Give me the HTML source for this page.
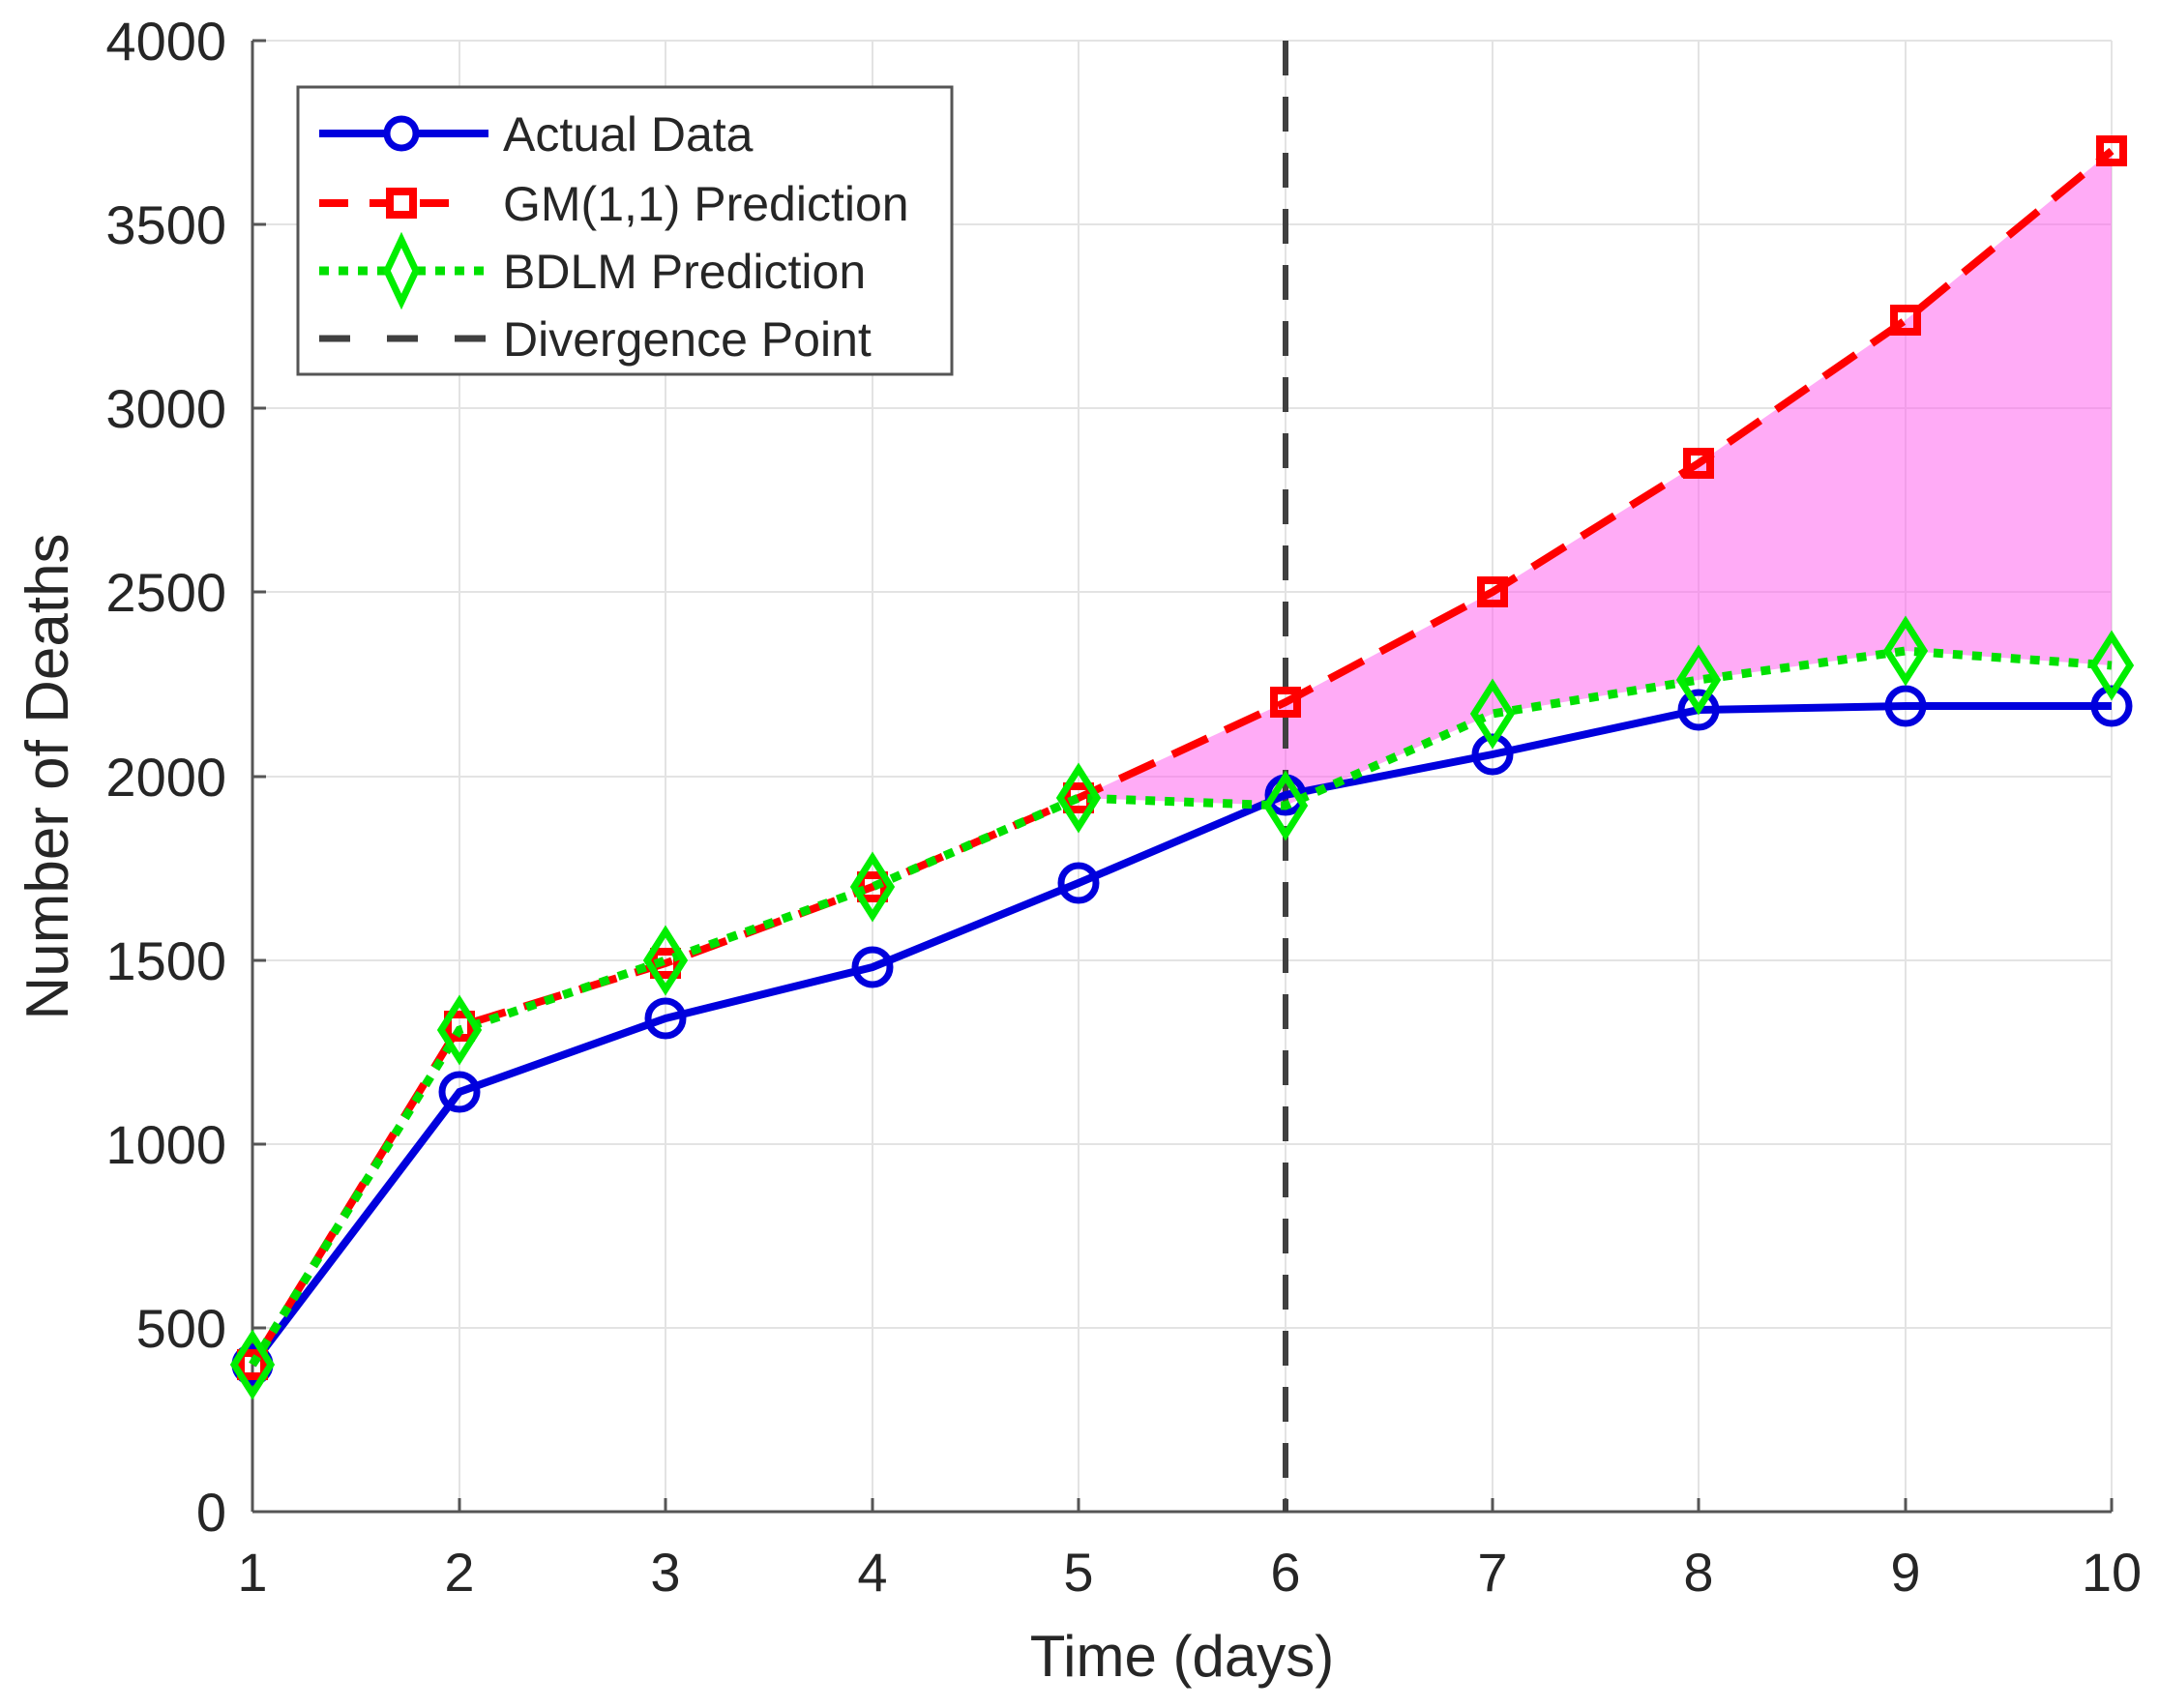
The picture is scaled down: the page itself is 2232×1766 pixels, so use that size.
<!DOCTYPE html>
<html><head><meta charset="utf-8"><style>
html,body{margin:0;padding:0;background:#fff;}
svg{display:block;font-family:"Liberation Sans",Arial,sans-serif;}
</style></head><body>
<svg width="2232" height="1766" viewBox="0 0 2232 1766" xmlns="http://www.w3.org/2000/svg">
<rect width="2232" height="1766" fill="#fff"/>
<g id="grid" stroke="#e3e3e3" stroke-width="2">
<line x1="475" y1="42" x2="475" y2="1563"/><line x1="688" y1="42" x2="688" y2="1563"/><line x1="902" y1="42" x2="902" y2="1563"/><line x1="1115" y1="42" x2="1115" y2="1563"/><line x1="1329" y1="42" x2="1329" y2="1563"/><line x1="1543" y1="42" x2="1543" y2="1563"/><line x1="1756" y1="42" x2="1756" y2="1563"/><line x1="1970" y1="42" x2="1970" y2="1563"/><line x1="2183" y1="42" x2="2183" y2="1563"/>
<line x1="261" y1="42" x2="2183" y2="42"/><line x1="261" y1="232" x2="2183" y2="232"/><line x1="261" y1="422" x2="2183" y2="422"/><line x1="261" y1="612" x2="2183" y2="612"/><line x1="261" y1="803" x2="2183" y2="803"/><line x1="261" y1="993" x2="2183" y2="993"/><line x1="261" y1="1183" x2="2183" y2="1183"/><line x1="261" y1="1373" x2="2183" y2="1373"/>
</g>
<polygon fill="#ff66ee" fill-opacity="0.55" points="1115,825 1329,726 1543,612 1756,479 1970,331 2183,156 2183,688 1970,673 1756,703 1543,738 1329,833 1115,825"/>
<g stroke="#555" stroke-width="3" fill="none">
<line x1="261" y1="42" x2="261" y2="1563"/><line x1="261" y1="1563" x2="2183" y2="1563"/>
</g>
<g stroke="#555" stroke-width="3">
<line x1="261" y1="42" x2="275" y2="42"/><line x1="261" y1="232" x2="275" y2="232"/><line x1="261" y1="422" x2="275" y2="422"/><line x1="261" y1="612" x2="275" y2="612"/><line x1="261" y1="803" x2="275" y2="803"/><line x1="261" y1="993" x2="275" y2="993"/><line x1="261" y1="1183" x2="275" y2="1183"/><line x1="261" y1="1373" x2="275" y2="1373"/>
<line x1="475" y1="1563" x2="475" y2="1549"/><line x1="688" y1="1563" x2="688" y2="1549"/><line x1="902" y1="1563" x2="902" y2="1549"/><line x1="1115" y1="1563" x2="1115" y2="1549"/><line x1="1329" y1="1563" x2="1329" y2="1549"/><line x1="1543" y1="1563" x2="1543" y2="1549"/><line x1="1756" y1="1563" x2="1756" y2="1549"/><line x1="1970" y1="1563" x2="1970" y2="1549"/><line x1="2183" y1="1563" x2="2183" y2="1549"/>
</g>
<g font-size="56" fill="#262626" text-anchor="end">
<text x="234" y="62">4000</text><text x="234" y="252">3500</text><text x="234" y="442">3000</text><text x="234" y="632">2500</text><text x="234" y="823">2000</text><text x="234" y="1013">1500</text><text x="234" y="1203">1000</text><text x="234" y="1393">500</text><text x="234" y="1583">0</text>
</g>
<g font-size="56" fill="#262626" text-anchor="middle">
<text x="261" y="1645">1</text><text x="475" y="1645">2</text><text x="688" y="1645">3</text><text x="902" y="1645">4</text><text x="1115" y="1645">5</text><text x="1329" y="1645">6</text><text x="1543" y="1645">7</text><text x="1756" y="1645">8</text><text x="1970" y="1645">9</text><text x="2183" y="1645">10</text>
<text x="1222" y="1733" font-size="60">Time (days)</text>
<text transform="translate(70,803) rotate(-90)" font-size="62">Number of Deaths</text>
</g>
<line x1="1329" y1="42" x2="1329" y2="1563" stroke="#404040" stroke-width="6" stroke-dasharray="36,22"/>
<polyline fill="none" stroke="#0000dd" stroke-width="8" points="261,1411 475,1129 688,1053 902,1000 1115,913 1329,822 1543,780 1756,734 1970,730 2183,730"/>
<g fill="none" stroke="#0000dd" stroke-width="7">
<circle cx="261" cy="1411" r="18"/><circle cx="475" cy="1129" r="18"/><circle cx="688" cy="1053" r="18"/><circle cx="902" cy="1000" r="18"/><circle cx="1115" cy="913" r="18"/><circle cx="1329" cy="822" r="18"/><circle cx="1543" cy="780" r="18"/><circle cx="1756" cy="734" r="18"/><circle cx="1970" cy="730" r="18"/><circle cx="2183" cy="730" r="18"/>
</g>
<polyline fill="none" stroke="#ff0000" stroke-width="8" stroke-dasharray="40,20" points="261,1411 475,1061 688,996 902,917 1115,825 1329,726 1543,612 1756,479 1970,331 2183,156"/>
<g fill="none" stroke="#ff0000" stroke-width="8">
<rect x="249" y="1399" width="24" height="24"/><rect x="463" y="1049" width="24" height="24"/><rect x="676" y="984" width="24" height="24"/><rect x="890" y="905" width="24" height="24"/><rect x="1103" y="813" width="24" height="24"/><rect x="1317" y="714" width="24" height="24"/><rect x="1531" y="600" width="24" height="24"/><rect x="1744" y="467" width="24" height="24"/><rect x="1958" y="319" width="24" height="24"/><rect x="2171" y="144" width="24" height="24"/>
</g>
<polyline fill="none" stroke="#00e000" stroke-width="9" stroke-dasharray="10,10" points="261,1411 475,1065 688,993 902,917 1115,825 1329,833 1543,738 1756,703 1970,673 2183,688"/>
<g fill="none" stroke="#00ee00" stroke-width="7">
<path d="M261,1381 L280,1411 L261,1441 L242,1411Z"/><path d="M475,1035 L494,1065 L475,1095 L456,1065Z"/><path d="M688,963 L707,993 L688,1023 L669,993Z"/><path d="M902,887 L921,917 L902,947 L883,917Z"/><path d="M1115,795 L1134,825 L1115,855 L1096,825Z"/><path d="M1329,803 L1348,833 L1329,863 L1310,833Z"/><path d="M1543,708 L1562,738 L1543,768 L1524,738Z"/><path d="M1756,673 L1775,703 L1756,733 L1737,703Z"/><path d="M1970,643 L1989,673 L1970,703 L1951,673Z"/><path d="M2183,658 L2202,688 L2183,718 L2164,688Z"/>
</g>
<rect x="308" y="90" width="676" height="297" fill="#fff" stroke="#555" stroke-width="3"/>
<line x1="330" y1="138" x2="505" y2="138" stroke="#0000dd" stroke-width="8"/>
<circle cx="415" cy="138" r="15" fill="#fff" stroke="#0000dd" stroke-width="7"/>
<line x1="330" y1="210" x2="470" y2="210" stroke="#ff0000" stroke-width="8" stroke-dasharray="30,22"/>
<rect x="403" y="198" width="24" height="24" fill="#fff" stroke="#ff0000" stroke-width="8"/>
<line x1="330" y1="280" x2="505" y2="280" stroke="#00e000" stroke-width="9" stroke-dasharray="10,10"/>
<path d="M415,248 L430,280 L415,312 L400,280Z" fill="#fff" stroke="#00ee00" stroke-width="7"/>
<line x1="330" y1="350" x2="505" y2="350" stroke="#404040" stroke-width="7" stroke-dasharray="32,38"/>
<g font-size="50" fill="#262626">
<text x="520" y="156">Actual Data</text><text x="520" y="228">GM(1,1) Prediction</text><text x="520" y="298">BDLM Prediction</text><text x="520" y="368">Divergence Point</text>
</g>
</svg>
</body></html>
